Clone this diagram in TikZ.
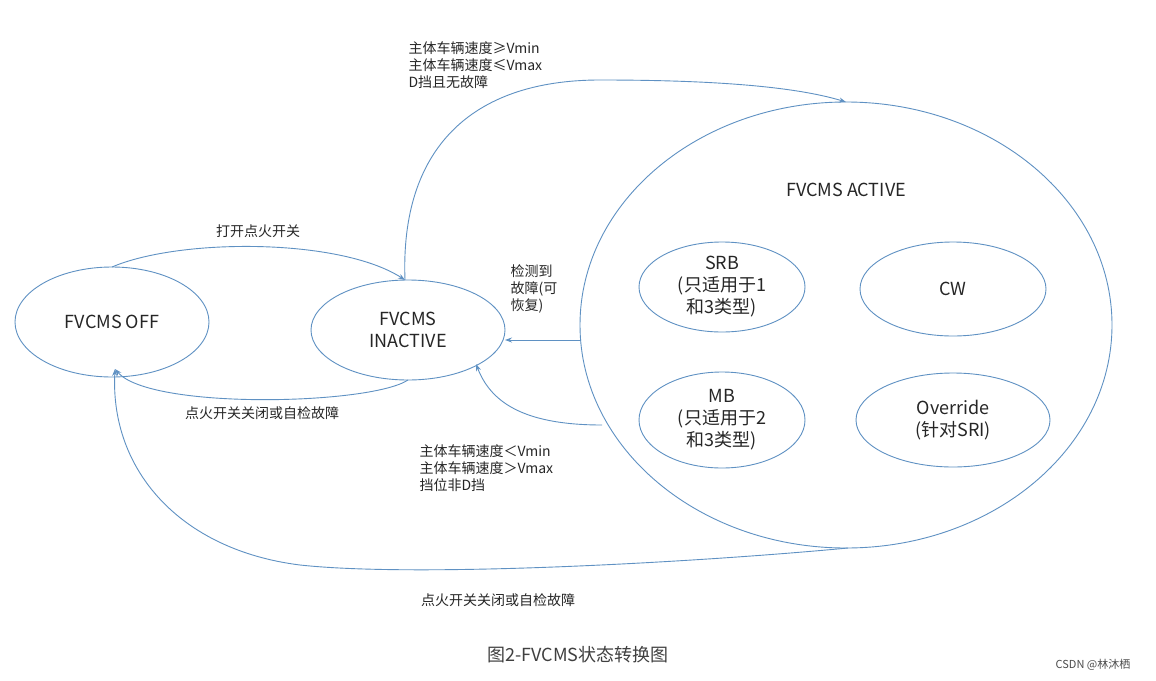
\documentclass[tikz,border=0pt]{standalone}
\usepackage{fontspec}
\setmainfont{Noto Sans CJK SC}
\usetikzlibrary{arrows.meta}
\definecolor{ln}{RGB}{95,145,195}
\begin{document}
\begin{tikzpicture}[x=1pt,y=-1pt,
  st/.style={draw=ln,line width=0.9pt,ellipse,inner sep=0pt},
  ar/.style={draw=ln,line width=0.9pt,-{Stealth[length=7pt,width=5pt]}},
  lb/.style={font=\fontsize{14}{17}\selectfont,align=left,text=black!85},
  big/.style={font=\fontsize{18}{22}\selectfont,align=center,text=black!85}]
\fill[white] (0,0) rectangle (1156,680);
\useasboundingbox (0,0) rectangle (1156,680);
\draw[ln,line width=0.9pt] (112,322) ellipse [x radius=97,y radius=55];
\node[big] (off) at (112,322) {FVCMS OFF};
\draw[ln,line width=0.9pt] (408,330) ellipse [x radius=97,y radius=50];
\node[big] (ina) at (408,330) {FVCMS\\INACTIVE};
\draw[ln,line width=0.9pt] (846,325) ellipse [x radius=266,y radius=223];
\node[big] (act) at (846,190) {FVCMS ACTIVE};
\draw[ln,line width=0.9pt] (722,287) ellipse [x radius=83,y radius=45];
\node[big] (srb) at (722,287) {SRB\\(只适用于1\\和3类型)};
\draw[ln,line width=0.9pt] (953,289) ellipse [x radius=93,y radius=47];
\node[big] (cw) at (953,289) {CW};
\draw[ln,line width=0.9pt] (722,420) ellipse [x radius=83,y radius=48];
\node[big] (mb) at (722,420) {MB\\(只适用于2\\和3类型)};
\draw[ln,line width=0.9pt] (953,420) ellipse [x radius=97,y radius=47];
\node[big] (ovr) at (953,420) {Override\\(针对SRI)};
% coordinates on borders
\coordinate (offT) at (112,267);
\coordinate (offB) at (115,369);
\coordinate (inaT) at (405,280);
\coordinate (inaB) at (408,380);
\coordinate (inaR) at (505,340);
\coordinate (inaBR) at (476,364);
\coordinate (actT) at (846,102);
\coordinate (actL) at (581,340);
\coordinate (actLB) at (602,425);
\coordinate (actB) at (848,548);
\draw[ar] (offT) .. controls (180,238) and (340,238) .. (inaT);
\node[lb] (l1) at (258,231) {打开点火开关};
\draw[ar] (inaB) .. controls (370,405) and (150,410) .. (offB);
\node[lb] (l2) at (262,413) {点火开关关闭或自检故障};
\draw[ar] (inaT) .. controls (400,150) and (470,80) .. (600,80) .. controls (700,80) and (790,85) .. (actT);
\node[lb,anchor=north west] (l3) at (405,38) {主体车辆速度≥Vmin\\主体车辆速度≤Vmax\\D挡且无故障};
\draw[ar] (actL) -- (inaR);
\node[lb,anchor=north west] (l4) at (507,261) {检测到\\故障(可\\恢复)};
\draw[ar] (actLB) .. controls (520,425) and (490,400) .. (inaBR);
\node[lb,anchor=north west] (l5) at (416,441) {主体车辆速度＜Vmin\\主体车辆速度＞Vmax\\挡位非D挡};
\draw[ar] (actB) .. controls (700,562) and (420,578) .. (300,565) .. controls (180,550) and (110,470) .. (offB);
\node[lb] (l6) at (498,600) {点火开关关闭或自检故障};
\node[font=\fontsize{18}{22}\selectfont,text=black!75] (cap) at (578,655) {图2-FVCMS状态转换图};
\node[font=\fontsize{11}{13}\selectfont,text=black!70] (csdn) at (1093,665) {CSDN @林沐栖};
\end{tikzpicture}
\end{document}
